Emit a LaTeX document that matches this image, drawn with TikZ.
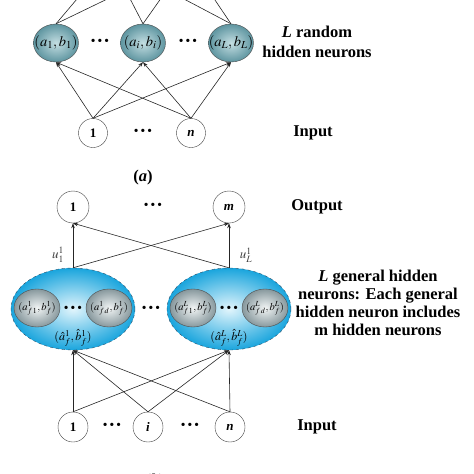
\documentclass[tikz,border=0pt]{standalone}
\usepackage{mathptmx}
\usepackage{fontspec}
\setmainfont{Liberation Serif}
\usetikzlibrary{shapes.geometric, arrows.meta, positioning}

\definecolor{tealedge}{HTML}{5E95A0}
\definecolor{tealmid}{HTML}{C4DEE2}
\definecolor{skyedge}{HTML}{1AA5DD}
\definecolor{skymid}{HTML}{E2F5FC}
\definecolor{greyedge}{HTML}{87989D}
\definecolor{greymid}{HTML}{F2F5F5}
\definecolor{rimblue}{HTML}{2B4E66}

% label that keeps the ellipse at its fixed size
\newcommand{\tight}[1]{\makebox[0pt]{#1}}

\begin{document}
\begin{tikzpicture}[
  x=1pt, y=-1pt,
  unit/.style   = {draw=black!75, circle, minimum size=30pt, inner sep=0pt,
                   font=\fontsize{13}{13}\selectfont\bfseries},
  hid/.style    = {draw=black!70, ellipse, minimum width=45pt, minimum height=38pt,
                   inner sep=0pt, shading=radial, inner color=tealmid,
                   outer color=tealedge, font=\fontsize{14.5}{14.5}\selectfont},
  gen/.style    = {draw=rimblue, dashed, ellipse, minimum width=124pt,
                   minimum height=82pt, inner sep=0pt, shading=radial,
                   inner color=skymid, outer color=skyedge},
  sub/.style    = {draw=black!70, ellipse, minimum width=46pt, minimum height=38pt,
                   inner sep=0pt, shading=radial, inner color=greymid,
                   outer color=greyedge, font=\fontsize{10.5}{10.5}\selectfont},
  dots/.style   = {inner sep=0pt, font=\fontsize{20}{20}\selectfont\bfseries},
  lbl/.style    = {font=\fontsize{16.5}{18}\selectfont\bfseries, align=center},
  arr/.style    = {-{Stealth[length=5pt, width=3.5pt]}, black!85, line width=0.6pt},
  wire/.style   = {black!85, line width=0.6pt}
]
\useasboundingbox (0,0) rectangle (474,474);
\clip (0,0) rectangle (474,474);

% (a) nodes
\coordinate (oa1) at (110,-40);
\coordinate (oa2) at (188,-40);
\node[hid] (h1) at (56,43)  {\tight{$(a_1,b_1)$}};
\node[hid] (h2) at (143,43) {\tight{$(a_i,b_i)$}};
\node[hid] (h3) at (231,43) {\tight{$(a_L,b_L)$}};
\node[dots] (hd1) at (100,43) {···};
\node[dots] (hd2) at (188,43) {···};
\node[unit, minimum size=29pt] (ia1) at (93,133)  {1};
\node[unit, minimum size=29pt] (ia2) at (191,133) {\textit{n}};
\node[dots] (iad) at (143,133) {···};

\node[lbl, font=\fontsize{16.5}{20}\selectfont\bfseries] (lra) at (317,42) {\textit{L} random\\hidden neurons};
\node[lbl] (ina) at (313,133) {Input};
\node[lbl] (capa) at (143,178) {(\textit{a})};

% (a) connections
\foreach \h in {h1,h2,h3}{
  \draw[wire] (\h.north) -- (oa1);
  \draw[wire] (\h.north) -- (oa2);
  \draw[arr] (ia1.north) -- (\h.south);
  \draw[arr] (ia2.north) -- (\h.south);
}

% (b) nodes
\node[unit, minimum size=32pt] (ob1) at (73,207)  {1};
\node[unit, minimum size=32pt] (ob2) at (229,207) {\textit{m}};
\node[dots] (obd) at (153,207) {···};
\node[lbl] (outb) at (317,207) {Output};

\node[gen] (g1) at (73,309)  {};
\node[gen] (g2) at (229,309) {};
\node[sub] (s11) at (37,308)  {\tight{$(a^1_{f\,1},b^1_f)$}};
\node[sub] (s12) at (109,308) {\tight{$(a^1_{f\,d},b^1_f)$}};
\node[sub] (s21) at (193,308) {\tight{$(a^L_{f\,1},b^L_f)$}};
\node[sub] (s22) at (265,308) {\tight{$(a^L_{f\,d},b^L_f)$}};
\node[dots] (sd1) at (73,310)  {···};
\node[dots] (sd2) at (229,310) {···};
\node[dots] (gd)  at (151,310) {···};
\node[font=\fontsize{12}{12}\selectfont] (hat1) at (73,338)  {$(\hat a^1_f,\hat b^1_f)$};
\node[font=\fontsize{12}{12}\selectfont] (hat2) at (229,338) {$(\hat a^L_f,\hat b^L_f)$};

\node[lbl] (lgb) at (378,303) {\textit{L} general hidden\\neurons: Each general\\hidden neuron includes\\m hidden neurons};

\node[unit] (ib1) at (73,427)  {1};
\node[unit] (ib2) at (148,427) {\textit{i}};
\node[unit] (ib3) at (230,427) {\textit{n}};
\node[dots] (ibd1) at (112,427) {···};
\node[dots] (ibd2) at (190,427) {···};
\node[lbl] (inb) at (317,427) {Input};
\node[lbl] (capb) at (155,482) {(\textit{b})};

% (b) connections
\draw[arr] (g1.north) -- (ob1.south);
\draw[arr] (g1.north) -- (ob2.south);
\draw[arr] (g2.north) -- (ob1.south);
\draw[arr] (g2.north) -- (ob2.south);
\node[font=\fontsize{13}{13}\selectfont, text=black!75] (u1) at (58,255)  {$u^1_1$};
\node[font=\fontsize{13}{13}\selectfont, text=black!75] (uL) at (246,255) {$u^1_L$};
\foreach \i in {ib1,ib2,ib3}{
  \draw[arr] (\i.north) -- (g1.south);
  \draw[arr] (\i.north) -- (g2.south);
}
\end{tikzpicture}
\end{document}
